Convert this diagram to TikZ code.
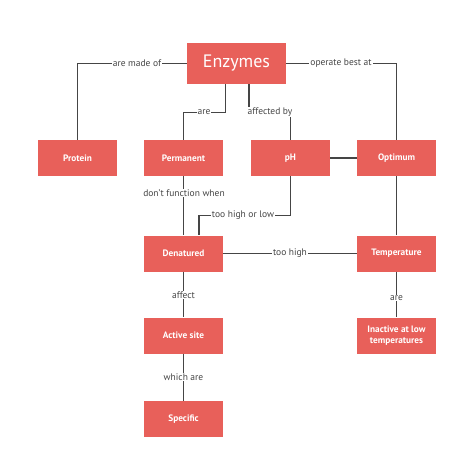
\documentclass[tikz,border=0pt]{standalone}
\usepackage{fontspec}
\setmainfont{PT Sans}
\definecolor{boxred}{HTML}{E8605A}
\definecolor{linegray}{HTML}{454545}
\definecolor{labgray}{HTML}{454545}
\begin{document}
\begin{tikzpicture}[x=1pt,y=-1pt,
  cbox/.style={rectangle,fill=boxred,draw=none,minimum width=79pt,minimum height=36pt,
    text=white,font=\fontsize{9.3}{11}\selectfont\bfseries,align=center,inner sep=2pt},
  bigbox/.style={rectangle,fill=boxred,draw=none,minimum width=99pt,minimum height=41pt,
    text=white,font=\fontsize{18}{21}\selectfont,inner sep=2pt},
  lab/.style={fill=white,text=labgray,font=\fontsize{9.5}{11}\selectfont,inner sep=1pt},
  conn/.style={draw=linegray,line width=1.4pt}]
\useasboundingbox (0,0) rectangle (474,474);
% nodes
\node[bigbox] (enz) at (236.5,63.5) {Enzymes};
\node[cbox] (prot) at (77.5,158) {Protein};
\node[cbox] (perm) at (183.5,158) {Permanent};
\node[cbox] (ph) at (290.5,158) {pH};
\node[cbox] (opt) at (396.5,158) {Optimum};
\node[cbox] (den) at (183.5,253.5) {Denatured};
\node[cbox] (temp) at (396.5,253.5) {Temperature};
\node[cbox] (act) at (183.5,335.5) {Active site};
\node[cbox] (inact) at (396.5,335.5) {Inactive at low\\temperatures};
\node[cbox] (spec) at (183.5,419) {Specific};
% connectors
\draw[conn] (enz.west) -| (prot.north);
\draw[conn] (enz.east) -| (opt.north);
\coordinate (e1) at ([xshift=-11pt]enz.south);
\coordinate (e2) at ([xshift=12.5pt]enz.south);
\draw[conn] (e1) -- ++(0,28) -| (perm.north);
\draw[conn] (e2) -- ++(0,28) -| (ph.north);
\draw[conn] (ph.east) -- (opt.west);
\draw[conn] (perm.south) -- (den.north);
\coordinate (d1) at ([xshift=15.5pt]den.north);
\draw[conn] (ph.south) -- ++(0,39) -| (d1);
\draw[conn] (den.east) -- (temp.west);
\draw[conn] (opt.south) -- (temp.north);
\draw[conn] (temp.south) -- (inact.north);
\draw[conn] (den.south) -- (act.north);
\draw[conn] (act.south) -- (spec.north);
% labels
\node[lab] (l1) at (137,63.5) {are made of};
\node[lab] (l2) at (341,63.5) {operate best at};
\node[lab] (l3) at (204,112) {are};
\node[lab] (l4) at (270,112) {affected by};
\node[lab] (l5) at (184,193) {don't function when};
\node[lab] (l6) at (243,215) {too high or low};
\node[lab] (l7) at (290,253) {too high};
\node[lab] (l8) at (183.5,295) {affect};
\node[lab] (l9) at (396.5,298) {are};
\node[lab] (l10) at (183.5,377) {which are};
\end{tikzpicture}
\end{document}
